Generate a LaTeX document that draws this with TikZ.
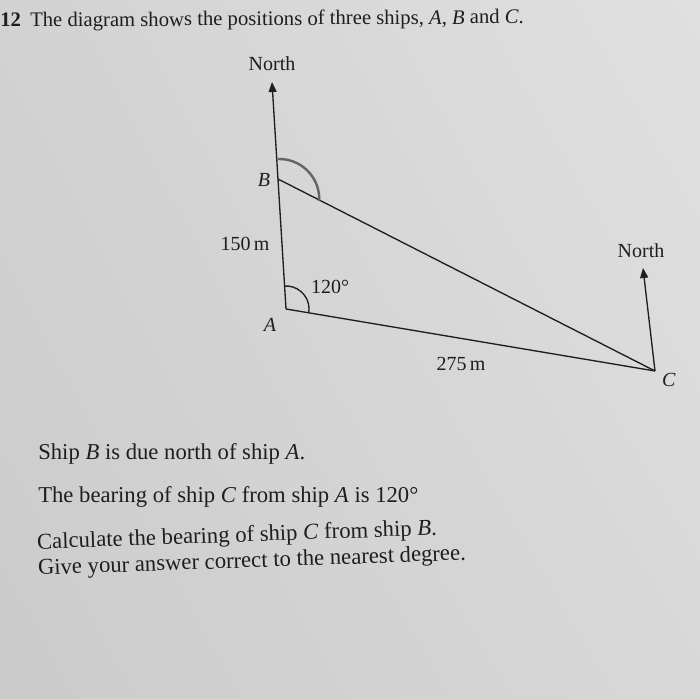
\documentclass[tikz,border=0pt]{standalone}
\usepackage{fontspec}
\setmainfont{Liberation Serif}
\usetikzlibrary{arrows.meta,angles,calc,shadings}
\definecolor{ink}{RGB}{30,30,30}
\definecolor{arcgrey}{RGB}{100,100,100}
\definecolor{paperUL}{RGB}{210,210,210}
\definecolor{paperUR}{RGB}{224,224,224}
\definecolor{paperLL}{RGB}{203,203,203}
\definecolor{paperLR}{RGB}{216,216,216}
\begin{document}
\begin{tikzpicture}[x=0.75pt,y=0.75pt,
  line/.style={draw=ink,line width=1pt},
  northarrow/.style={line,-{Triangle[length=7.5pt,width=6pt]}},
  lbl/.style={text=ink,font=\fontsize{15}{18}\selectfont,inner sep=0pt},
  body/.style={text=ink,font=\fontsize{17}{19.5}\selectfont,inner sep=0pt,anchor=base west},
  head/.style={text=ink,font=\fontsize{15.5}{18}\selectfont,inner sep=0pt,anchor=base west},
]
\shade[upper left=paperUL,upper right=paperUR,lower left=paperLL,lower right=paperLR] (0,0) rectangle (700,699);
\useasboundingbox (0,0) rectangle (700,699);

% header
\node[head] (num) at (0,672) {\textbf{12}};
\node[head,rotate=0.4] (title) at (30,672) {The diagram shows the positions of three ships, \textit{A}, \textit{B} and \textit{C}.};

% points
\coordinate (A) at (286,390);
\coordinate (B) at (278,520);
\coordinate (C) at (655,328);
\coordinate (NA) at (272,617);
\coordinate (NC) at (643,431);
\coordinate (Bc) at ($(B)!15pt!(A)$);

% lines
\draw[northarrow] (A) -- (NA);
\draw[line] (A) -- (C);
\draw[line] (B) -- (C);
\draw[northarrow] (C) -- (NC);

% angle marks
\pic[draw=ink,line width=1pt,angle radius=17.25pt] {angle=C--A--B};
\draw[arcgrey,line width=1.8pt] (Bc) ++(92:30pt) arc[start angle=92,end angle=-3,radius=30pt];

% labels
\node[lbl] (northA) at (272,635) {North};
\node[lbl] (labB) at (264,519) {\textit{B}};
\node[lbl] (len150) at (245,455) {150\,m};
\node[lbl] (ang120) at (330,412) {120°};
\node[lbl] (labA) at (270,374) {\textit{A}};
\node[lbl] (len275) at (461,335) {275\,m};
\node[lbl] (northC) at (641,448) {North};
\node[lbl] (labC) at (669,319) {\textit{C}};

% question text
\node[body] (t1) at (38,239) {Ship \textit{B} is due north of ship \textit{A}.};
\node[body] (t2) at (38,196) {The bearing of ship \textit{C} from ship \textit{A} is 120°};
\node[body,rotate=2,align=left] (t34) at (38,124) {Calculate the bearing of ship \textit{C} from ship \textit{B}.\\Give your answer correct to the nearest degree.};
\end{tikzpicture}
\end{document}
